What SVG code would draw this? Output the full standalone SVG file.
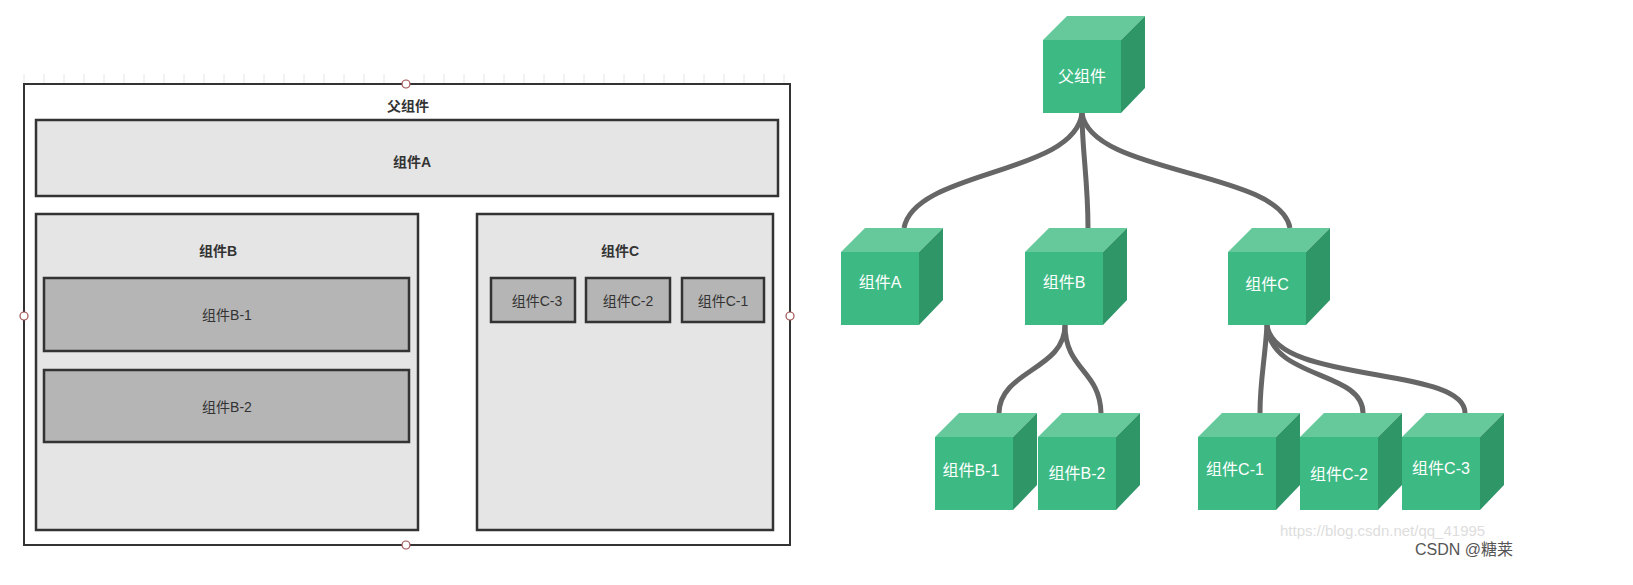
<svg xmlns="http://www.w3.org/2000/svg" width="1633" height="585" viewBox="0 0 1633 585">
<style>
.box{stroke:#333;stroke-width:2.5}
.lt{fill:#e5e5e5}.dk{fill:#b5b5b5}
.t{font-family:"Liberation Sans","Noto Sans CJK SC",sans-serif;font-size:14px;fill:#333;text-anchor:middle}
.b{font-weight:bold}
.ft{fill:#3dba84}.tp{fill:#66c99c}.sd{fill:#2f9668}
.ct{font-family:"Liberation Sans","Noto Sans CJK SC",sans-serif;font-size:16px;fill:#fff;text-anchor:middle}
.ln{fill:none;stroke:#666;stroke-width:5}
.pt{fill:#fff;stroke:#a05050;stroke-width:1.2}
</style>
<defs>
<g id="cube">
<polygon class="tp" points="0,24 24,0 102,0 78,24"/>
<polygon class="sd" points="78,24 102,0 102,72 78,97"/>
<rect class="ft" x="0" y="24" width="78" height="73"/>
</g>
</defs>
<rect width="1633" height="585" fill="#fff"/>
<g id="ruler" stroke="#e6e6e6" stroke-width="1">
<path d="M24,74V84M44,74V84M64,74V84M84,74V84M104,74V84M124,74V84M144,74V84M164,74V84M184,74V84M204,74V84M224,74V84M244,74V84M264,74V84M284,74V84M304,74V84M324,74V84M344,74V84M364,74V84M384,74V84M424,74V84M444,74V84M464,74V84M484,74V84M504,74V84M524,74V84M544,74V84M564,74V84M584,74V84M604,74V84M624,74V84M644,74V84M664,74V84M684,74V84M704,74V84M724,74V84M744,74V84M764,74V84M784,74V84"/>
</g>
<g id="parent">
<rect x="24" y="84" width="766" height="461" fill="#fff" stroke="#333" stroke-width="2"/>
<text class="t b" x="408" y="111">父组件</text>
</g>
<g id="compA"><rect class="box lt" x="36" y="120" width="742" height="76"/><text class="t b" x="412" y="167">组件A</text></g>
<g id="compB"><rect class="box lt" x="36" y="214" width="382" height="316"/><text class="t b" x="218" y="256">组件B</text></g>
<g id="compB1"><rect class="box dk" x="44" y="278" width="365" height="73"/><text class="t" x="227" y="320">组件B-1</text></g>
<g id="compB2"><rect class="box dk" x="44" y="370" width="365" height="72"/><text class="t" x="227" y="412">组件B-2</text></g>
<g id="compC"><rect class="box lt" x="477" y="214" width="296" height="316"/><text class="t b" x="620" y="256">组件C</text></g>
<g id="compC3"><rect class="box dk" x="491" y="278" width="84" height="44"/><text class="t" x="537" y="306">组件C-3</text></g>
<g id="compC2"><rect class="box dk" x="586" y="278" width="84" height="44"/><text class="t" x="628" y="306">组件C-2</text></g>
<g id="compC1"><rect class="box dk" x="682" y="278" width="82" height="44"/><text class="t" x="723" y="306">组件C-1</text></g>
<g id="handles">
<circle class="pt" cx="406" cy="84" r="4"/><circle class="pt" cx="24" cy="316" r="4"/>
<circle class="pt" cx="790" cy="316" r="4"/><circle class="pt" cx="406" cy="545" r="4"/>
</g>
<g id="connectors">
<path class="ln" d="M1082,113C1075,175 915,170 904,228"/>
<path class="ln" d="M1082,113C1082,150 1088,180 1088,228"/>
<path class="ln" d="M1082,113C1090,175 1280,170 1290,228"/>
<path class="ln" d="M1065,325C1065,370 1000,370 999,413"/>
<path class="ln" d="M1065,325C1065,370 1100,370 1101,413"/>
<path class="ln" d="M1267,325C1265,360 1260,380 1260,413"/>
<path class="ln" d="M1267,325C1270,380 1363,370 1363,413"/>
<path class="ln" d="M1267,325C1275,385 1465,365 1465,413"/>
</g>
<g id="n-parent" transform="translate(1043,16)"><use href="#cube"/><text class="ct" x="39" y="66">父组件</text></g>
<g id="n-A" transform="translate(841,228)"><use href="#cube"/><text class="ct" x="39" y="60">组件A</text></g>
<g id="n-B" transform="translate(1025,228)"><use href="#cube"/><text class="ct" x="39" y="60">组件B</text></g>
<g id="n-C" transform="translate(1228,228)"><use href="#cube"/><text class="ct" x="39" y="62">组件C</text></g>
<g id="n-B1" transform="translate(935,413)"><use href="#cube"/><text class="ct" x="36" y="63">组件B-1</text></g>
<g id="n-B2" transform="translate(1038,413)"><use href="#cube"/><text class="ct" x="39" y="66">组件B-2</text></g>
<g id="n-C1" transform="translate(1198,413)"><use href="#cube"/><text class="ct" x="37" y="62">组件C-1</text></g>
<g id="n-C2" transform="translate(1300,413)"><use href="#cube"/><text class="ct" x="39" y="67">组件C-2</text></g>
<g id="n-C3" transform="translate(1402,413)"><use href="#cube"/><text class="ct" x="39" y="61">组件C-3</text></g>
<text x="1280" y="536" font-family="Liberation Sans,sans-serif" font-size="15" fill="#ddd">https://blog.csdn.net/qq_41995</text>
<text x="1415" y="555" font-family="Liberation Sans,'Noto Sans CJK SC',sans-serif" font-size="16" fill="#555">CSDN @糖莱</text>
</svg>
